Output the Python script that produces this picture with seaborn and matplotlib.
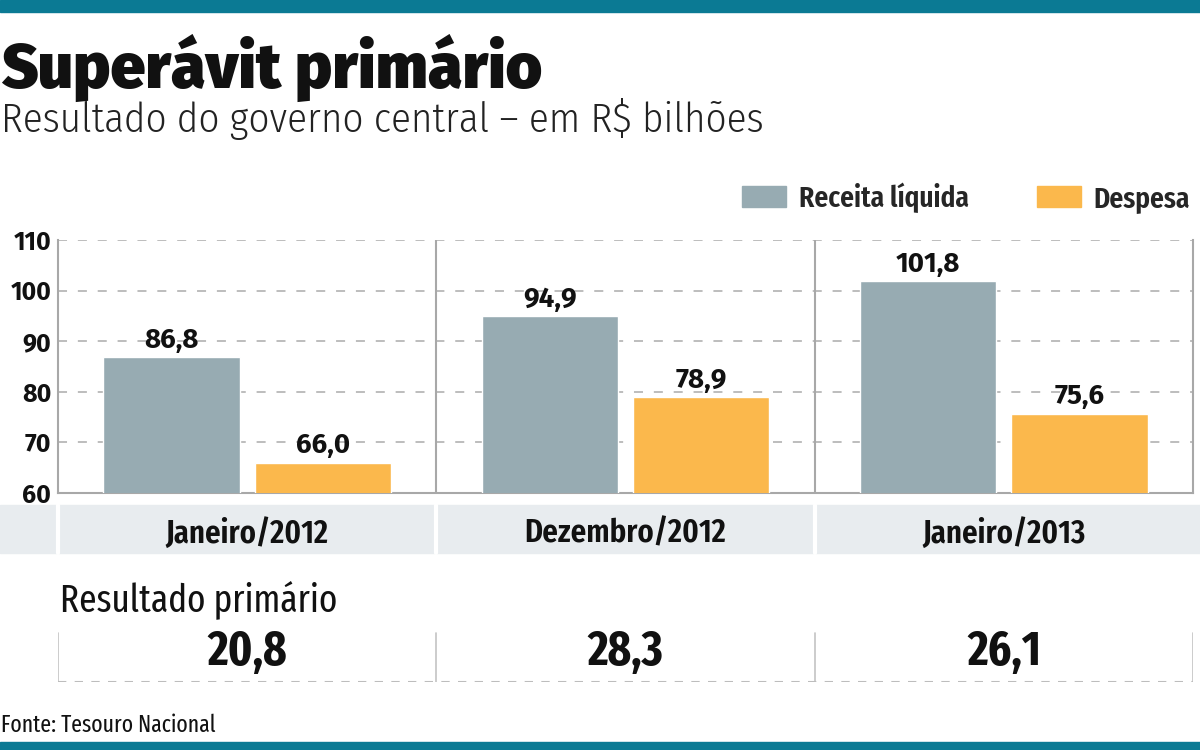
import matplotlib
matplotlib.use("Agg")
import matplotlib.pyplot as plt
from matplotlib.patches import Rectangle, Patch
import seaborn as sns
import pandas as pd

# ---- data ----
categories = ["Janeiro/2012", "Dezembro/2012", "Janeiro/2013"]
receita = [86.8, 94.9, 101.8]
despesa = [66.0, 78.9, 75.6]
resultado = [20.8, 28.3, 26.1]
series_names = ["Receita líquida", "Despesa"]
yticks = [60, 70, 80, 90, 100, 110]

df = pd.DataFrame({
    "cat": categories * 2,
    "serie": [series_names[0]] * 3 + [series_names[1]] * 3,
    "valor": receita + despesa,
})

C_REC = "#97abb2"
C_DES = "#fbb84c"
TEAL = "#0b7a94"
GRID = "#b8b8b8"
SPINE = "#a8a8a8"
FIRA = ["Fira Sans", "DejaVu Sans"]
COND = ["Fira Sans Condensed", "DejaVu Sans"]
XCOND = ["Fira Sans Extra Condensed", "DejaVu Sans"]

sns.set_theme(style="white")
plt.rcParams["font.family"] = COND

W, H = 1200, 750
fig = plt.figure(figsize=(12, 7.5), dpi=100)

def fx(px):
    return px / W

def fy(py):
    return 1 - py / H

# top / bottom teal bars
fig.patches.append(Rectangle((0, fy(12)), 1, 12 / H, transform=fig.transFigure,
                             color=TEAL, zorder=-10))
fig.patches.append(Rectangle((0, 0), 1, 8 / H, transform=fig.transFigure,
                             color=TEAL, zorder=-10))
# category band
fig.patches.append(Rectangle((0, fy(553)), 1, 48 / H, transform=fig.transFigure,
                             color="#e8ecef", zorder=-10))

# titles
fig.text(fx(1), fy(88), "Superávit primário", fontsize=45, fontweight=900,
         family=FIRA, color="#111111", ha="left", va="baseline")
fig.text(fx(1), fy(132), "Resultado do governo central – em R$ bilhões",
         fontsize=29.5, fontweight=300, family=COND, color="#222222",
         ha="left", va="baseline")

# main axes
ax = fig.add_axes([fx(58), fy(493), fx(1193) - fx(58), (493 - 240) / H])
ax.set_zorder(1)
sns.barplot(data=df, x="cat", y="valor", hue="serie", order=categories,
            hue_order=series_names, palette=[C_REC, C_DES], width=0.8, gap=0.1,
            saturation=1, ax=ax, legend=False, zorder=3)
ax.set_ylim(60, 110)
ax.set_xlim(-0.5, 2.5)
ax.set_yticks(yticks)
ax.set_yticklabels([str(t) for t in yticks], fontsize=18, fontweight=700,
                   family=FIRA, color="#111111")
ax.tick_params(axis="y", length=0, pad=5)
ax.tick_params(axis="x", length=0, pad=18)
ax.set_xticks(range(len(categories)))
ax.set_xticklabels(categories, fontsize=24, fontweight=600, family=XCOND,
                   color="#111111")
ax.set_xlabel("")
ax.set_ylabel("")
for t in yticks[1:]:
    ax.axhline(t, color=GRID, lw=1.3, ls=(0, (5, 6)), zorder=1)
for s in ["left", "bottom", "right"]:
    ax.spines[s].set_color(SPINE)
    ax.spines[s].set_linewidth(1.5)
ax.spines["top"].set_visible(False)
for xv in [0.5, 1.5]:
    ax.axvline(xv, color=SPINE, lw=1.5, zorder=2)
# white separators in category band
for xv in [-0.5, 0.5, 1.5]:
    ax.axvline(xv, ymin=-0.237, ymax=-0.047, color="white", lw=3, clip_on=False)

for cont in ax.containers:
    ax.bar_label(cont, labels=[f"{b.get_height():.1f}".replace(".", ",")
                               for b in cont],
                 padding=3, fontsize=20, fontweight=700, family=FIRA,
                 color="#111111")

# legend
handles = [Patch(color=C_REC), Patch(color=C_DES)]
fig.legend(handles, series_names, loc="center right",
           bbox_to_anchor=(fx(1190), fy(198)), ncol=2, frameon=False,
           prop={"family": XCOND, "weight": 600, "size": 21.5},
           handlelength=1.47, handleheight=0.7, handletextpad=0.43,
           columnspacing=2.27, borderaxespad=0, borderpad=0)

# resultado primario
fig.text(fx(60), fy(611), "Resultado primário", fontsize=27.5, fontweight=400,
         family=XCOND, color="#111111", ha="left", va="baseline")
ax2 = fig.add_axes([fx(58), fy(682), fx(1193) - fx(58), 50 / H])
ax2.set_xlim(-0.5, 2.5)
ax2.set_ylim(0, 1)
ax2.axis("off")
for xv in [-0.5, 0.5, 1.5, 2.5]:
    ax2.axvline(xv, ymin=0, ymax=0.98, color="#c4c4c4", lw=1.2)
ax2.axhline(0, color="#bdbdbd", lw=1.5, ls=(0, (4, 4)))
for i, v in enumerate(resultado):
    ax2.text(i, 0.34, f"{v:.1f}".replace(".", ","), ha="center", va="baseline",
             fontsize=35, fontweight=700, family=XCOND, color="#111111")

fig.text(fx(1), fy(732), "Fonte: Tesouro Nacional", fontsize=17,
         family=XCOND, color="#111111", ha="left", va="baseline")

fig.savefig("out.png", dpi=100)
